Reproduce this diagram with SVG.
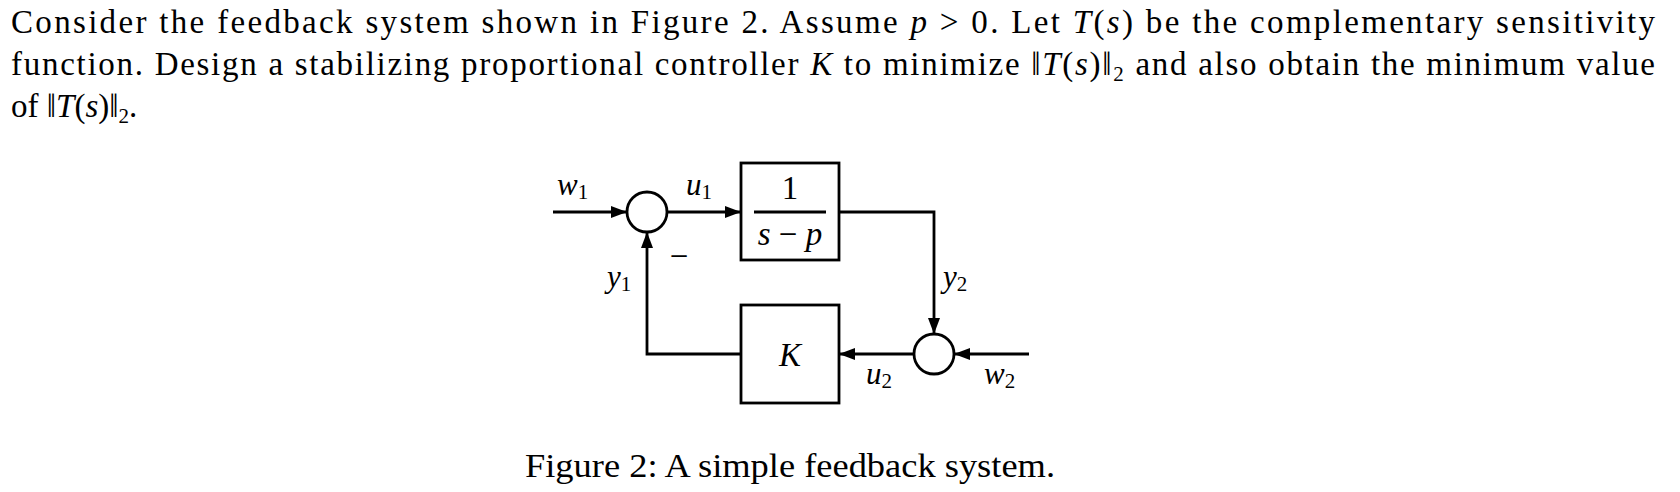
<svg xmlns="http://www.w3.org/2000/svg" width="1680" height="492" viewBox="0 0 1680 492">
<style>
text{font-family:"Liberation Serif","DejaVu Serif",serif;fill:#000}
.t{font-size:33px}
.m{font-size:33px;font-style:italic}
.l{font-size:31px;font-style:italic}
.s{font-size:21px;font-style:normal}
.ln{stroke:#000;stroke-width:2.8;fill:none}
.bx{stroke:#000;stroke-width:2.8;fill:#fff}
</style>
<defs>
<marker id="ah" viewBox="0 0 16 12" refX="16" refY="6" markerWidth="17" markerHeight="12" markerUnits="userSpaceOnUse" orient="auto"><path d="M0,0L16,6L0,12z"/></marker></defs>
<rect width="1680" height="492" fill="#fff"/>
<text class="t" font-family="Liberation Serif, serif" x="11" y="33" textLength="1644" lengthAdjust="spacing">Consider the feedback system shown in Figure 2.  Assume <tspan font-style="italic">p</tspan> &gt; 0.  Let <tspan font-style="italic">T</tspan>(<tspan font-style="italic">s</tspan>) be the complementary sensitivity</text>
<text class="t" font-family="Liberation Serif, serif" x="11" y="75" textLength="1644" lengthAdjust="spacing">function. Design a stabilizing proportional controller <tspan font-style="italic">K</tspan> to minimize ‖<tspan font-style="italic">T</tspan>(<tspan font-style="italic">s</tspan>)‖<tspan font-size="21" dy="6">2</tspan><tspan dy="-6"> and also obtain the minimum value</tspan></text>
<text class="t" x="11" y="117">of ‖<tspan font-style="italic">T</tspan>(<tspan font-style="italic">s</tspan>)‖<tspan font-size="21" dy="6">2</tspan><tspan dy="-6">.</tspan></text>
<g id="connectors">
<path class="ln" d="M553,212H627" marker-end="url(#ah)"/>
<path class="ln" d="M667,212H741" marker-end="url(#ah)"/>
<path class="ln" d="M839,212H934V334" marker-end="url(#ah)"/>
<path class="ln" d="M1029,354H954" marker-end="url(#ah)"/>
<path class="ln" d="M914,354H839" marker-end="url(#ah)"/>
<path class="ln" d="M741,354H647V232" marker-end="url(#ah)"/>
</g>
<g id="sum1"><circle class="bx" cx="647" cy="212" r="20"/></g>
<g id="sum2"><circle class="bx" cx="934" cy="354" r="20"/></g>
<g id="plant"><rect class="bx" x="741" y="163" width="98" height="97"/>
<line class="ln" x1="754" y1="212" x2="826" y2="212" stroke-width="1.6"/>
<text class="t" x="790" y="199" text-anchor="middle">1</text>
<text class="t" x="790" y="245" text-anchor="middle"><tspan font-style="italic">s</tspan> − <tspan font-style="italic">p</tspan></text></g>
<g id="controller"><rect class="bx" x="741" y="305" width="98" height="98"/>
<text class="m" x="790" y="366" text-anchor="middle">K</text></g>
<g id="labels">
<text class="l" x="557" y="195">w<tspan class="s" dy="4">1</tspan></text>
<text class="l" x="686" y="195">u<tspan class="s" dy="4">1</tspan></text>
<text class="l" x="607" y="287">y<tspan class="s" dy="4">1</tspan></text>
<text class="t" x="679" y="267" text-anchor="middle">−</text>
<text class="l" x="943" y="287">y<tspan class="s" dy="4">2</tspan></text>
<text class="l" x="866" y="384">u<tspan class="s" dy="4">2</tspan></text>
<text class="l" x="984" y="384">w<tspan class="s" dy="4">2</tspan></text>
</g>
<text class="t" x="525" y="477" textLength="530" lengthAdjust="spacingAndGlyphs">Figure 2:  A simple feedback system.</text>
</svg>
